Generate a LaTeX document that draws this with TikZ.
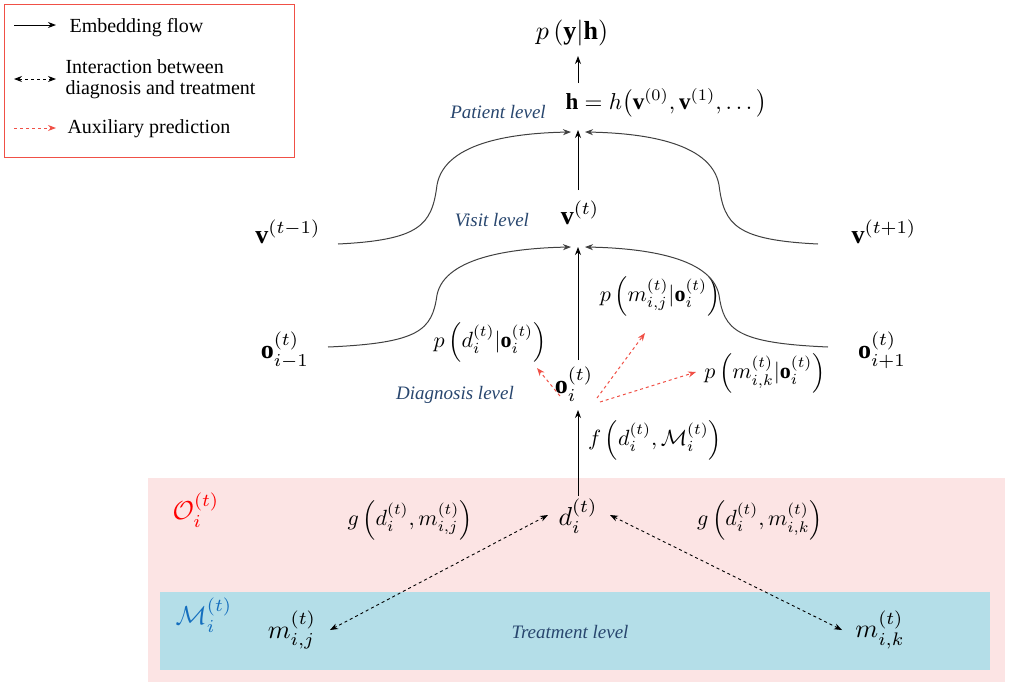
\documentclass[tikz,border=0pt]{standalone}
\usepackage{amsmath}
\usepackage{fontspec}
\setmainfont{Liberation Serif}
\usetikzlibrary{arrows.meta}
\definecolor{lvl}{RGB}{40,70,110}
\definecolor{redl}{RGB}{240,80,70}
\definecolor{pinkbg}{RGB}{252,228,228}
\definecolor{bluebg}{RGB}{180,222,232}
\newcommand\MM[1]{\scalebox{2.6}{$#1$}}
\newcommand\MH[1]{\scalebox{2.3}{$#1$}}
\newcommand\ML[1]{\scalebox{2.2}{$#1$}}
\begin{document}
\begin{tikzpicture}[x=1pt,y=-1pt,
  lv/.style={font=\fontsize{19}{22}\selectfont\itshape,text=lvl},
  lg/.style={font=\fontsize{20}{21}\selectfont,anchor=west,align=left},
  flow/.style={-{Stealth[length=8pt]},line width=1pt},
  aux/.style={-{Stealth[length=8pt]},dashed,redl,line width=1pt},
  inter/.style={{Stealth[length=8pt]}-{Stealth[length=8pt]},dashed,line width=0.9pt},
  crv/.style={-{Stealth[length=8pt]},gray!50!black,line width=1pt}]
\useasboundingbox (0,0) rectangle (1009,686);
% legend
\draw[redl,line width=0.9pt] (4,4) rectangle (294,157);
\coordinate (l1a) at (14,25); \coordinate (l1b) at (56,25);
\coordinate (l2a) at (14,79); \coordinate (l2b) at (56,79);
\coordinate (l3a) at (14,128); \coordinate (l3b) at (56,128);
\draw[flow] (l1a) -- (l1b);
\draw[inter] (l2a) -- (l2b);
\draw[aux] (l3a) -- (l3b);
\node[lg] (t1) at (66,28) {Embedding flow};
\node[lg] (t2) at (62,79) {Interaction between\\diagnosis and treatment};
\node[lg] (t3) at (64,129) {Auxiliary prediction};
% boxes
\fill[pinkbg] (148,478) rectangle (1005,682);
\fill[bluebg] (160,592) rectangle (990,670);
% nodes
\node (py) at (572,33) {\MM{p\left(\mathbf{y}|\mathbf{h}\right)}};
\coordinate (pyb) at (578,56);
\node[anchor=west] (h) at (562,103) {\MH{\mathbf{h}=h\big(\mathbf{v}^{(0)},\mathbf{v}^{(1)},\dots\big)}};
\coordinate (hb) at (578,130);
\node[lv] (pl) at (498,112) {Patient level};
\node (v) at (580,213) {\MM{\mathbf{v}^{(t)}}};
\node[lv] (vl) at (492,220) {Visit level};
\node (vm) at (288,232) {\MM{\mathbf{v}^{(t-1)}}};
\node (vp) at (884,232) {\MM{\mathbf{v}^{(t+1)}}};
\node (om) at (285,350) {\MM{\mathbf{o}_{i-1}^{(t)}}};
\node (op) at (882,350) {\MM{\mathbf{o}_{i+1}^{(t)}}};
\node (o) at (574,384) {\MM{\mathbf{o}_{i}^{(t)}}};
\node[lv] (dl) at (455,395) {Diagnosis level};
\node (pd) at (490,342) {\ML{p\left(d_i^{(t)}|\mathbf{o}_i^{(t)}\right)}};
\node (pmj) at (660,296) {\ML{p\left(m_{i,j}^{(t)}|\mathbf{o}_i^{(t)}\right)}};
\node (pmk) at (765,373) {\ML{p\left(m_{i,k}^{(t)}|\mathbf{o}_i^{(t)}\right)}};
\node (f) at (655,440) {\ML{f\left(d_i^{(t)},\mathcal{M}_i^{(t)}\right)}};
\node (d) at (578,516) {\MM{d_i^{(t)}}};
\node (gj) at (410,520) {\ML{g\left(d_i^{(t)},m_{i,j}^{(t)}\right)}};
\node (gk) at (760,520) {\ML{g\left(d_i^{(t)},m_{i,k}^{(t)}\right)}};
\node[text=red] (O) at (196,510) {\MM{\mathcal{O}_i^{(t)}}};
\node[text={rgb,255:red,20;green,110;blue,190}] (M) at (204,615) {\MM{\mathcal{M}_i^{(t)}}};
\node (mj) at (292,630) {\MM{m_{i,j}^{(t)}}};
\node (mk) at (880,630) {\MM{m_{i,k}^{(t)}}};
\node[lv] (tl) at (570,632) {Treatment level};
% flow arrows
\draw[flow] (578,83) -- (pyb);
\draw[flow] (578,190) -- (hb);
\draw[flow] (578,360) -- (578,247);
\draw[flow] (578,496) -- (578,410);
% curves
\draw[crv] (338,244) .. controls (420,240) and (432,225) .. (437,185) .. controls (445,140) and (520,133) .. (571,132);
\draw[crv] (818,244) .. controls (736,240) and (724,225) .. (719,185) .. controls (711,140) and (636,133) .. (585,132);
\draw[crv] (328,347) .. controls (420,343) and (432,330) .. (437,295) .. controls (445,255) and (520,248) .. (571,247);
\draw[crv] (828,347) .. controls (736,343) and (724,330) .. (719,295) .. controls (711,255) and (636,248) .. (585,247);
% aux
\draw[aux] (560,396) -- (537,368);
\draw[aux] (597,398) -- (645,333);
\draw[aux] (600,402) -- (696,372);
% interaction
\draw[inter] (548,515) -- (330,630);
\draw[inter] (610,515) -- (842,630);
\end{tikzpicture}
\end{document}
